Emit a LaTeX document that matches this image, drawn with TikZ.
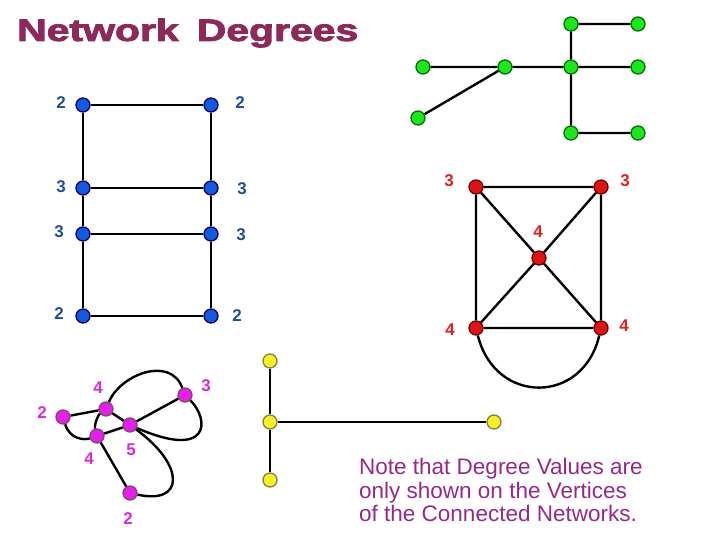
\documentclass[tikz,border=0pt]{standalone}
\usepackage{fontspec}
\setmainfont{Liberation Sans}
\newfontfamily\heavyfont[FakeBold=2.5]{Liberation Sans Bold}
\begin{document}
\begin{tikzpicture}[x=1pt,y=-1pt,
  v/.style={circle,draw=#1!45!black,line width=1.3pt,inner sep=0pt,minimum size=14pt},
  bv/.style={v=blue,fill={rgb,255:red,20;green,90;blue,220}},
  gv/.style={v=green,fill={rgb,255:red,30;green,230;blue,30}},
  rv/.style={v=red,fill={rgb,255:red,220;green,20;blue,20}},
  yv/.style={v=yellow,fill={rgb,255:red,245;green,240;blue,40}},
  mv/.style={v=magenta,fill={rgb,255:red,230;green,30;blue,240}},
  e/.style={line width=2.4pt,black},
  bl/.style={font=\bfseries\fontsize{17}{17}\selectfont,text={rgb,255:red,30;green,80;blue,150}},
  rl/.style={font=\bfseries\fontsize{17}{17}\selectfont,text={rgb,255:red,230;green,30;blue,30}},
  ml/.style={font=\bfseries\fontsize{17}{17}\selectfont,text={rgb,255:red,220;green,40;blue,220}}]
\useasboundingbox (0,0) rectangle (728,546);
\node[anchor=west,inner sep=0pt,font=\heavyfont\fontsize{31}{31}\selectfont,text={rgb,255:red,140;green,40;blue,90}] (title) at (17,33) {\scalebox{1.32}[1]{Network\, Degrees}};
% blue
\foreach \n/\x/\y in {b1/83/105,b2/211/105,b3/83/188,b4/211/188,b5/83/234,b6/211/234,b7/83/316,b8/211/316}
  \node[bv] (\n) at (\x,\y) {};
\draw[e] (b1)--(b2) (b1)--(b3) (b2)--(b4) (b3)--(b4) (b3)--(b5) (b4)--(b6) (b5)--(b6) (b5)--(b7) (b6)--(b8) (b7)--(b8);
\node[bl] (lb1) at (61,103) {2}; \node[bl] (lb2) at (240,103) {2};
\node[bl] (lb3) at (61,187) {3}; \node[bl] (lb4) at (242,189) {3};
\node[bl] (lb5) at (59,232) {3}; \node[bl] (lb6) at (241,235) {3};
\node[bl] (lb7) at (59,314) {2}; \node[bl] (lb8) at (237,316) {2};
% green
\foreach \n/\x/\y in {g1/571/24,g2/638/24,g3/423/67,g4/505/67,g5/571/67,g6/638/67,g7/418/118,g8/571/133,g9/638/133}
  \node[gv] (\n) at (\x,\y) {};
\draw[e] (g1)--(g2) (g1)--(g5) (g5)--(g8) (g8)--(g9) (g3)--(g4) (g4)--(g5) (g5)--(g6) (g7)--(g4);
% red
\foreach \n/\x/\y in {r1/476/187,r2/601/187,r3/539/258,r4/476/328,r5/601/328}
  \node[rv] (\n) at (\x,\y) {};
\draw[e] (r1)--(r2) (r1)--(r4) (r2)--(r5) (r4)--(r5) (r1)--(r3)--(r5) (r2)--(r3)--(r4);
\draw[e] (r4) .. controls (495,405) and (583,405) .. (r5);
\node[rl] (lr1) at (449,181) {3}; \node[rl] (lr2) at (625,181) {3};
\node[rl] (lr3) at (538,232) {4};
\node[rl] (lr4) at (450,330) {4}; \node[rl] (lr5) at (624,326) {4};
% yellow
\foreach \n/\x/\y in {y1/270/361,y2/270/422,y3/270/480,y4/494/422}
  \node[yv] (\n) at (\x,\y) {};
\draw[e] (y1)--(y2)--(y3) (y2)--(y4);
% magenta
\node[mv] (mA) at (63,417) {};
\node[mv] (mB) at (106,409) {};
\node[mv] (mC) at (97,436) {};
\node[mv] (mD) at (130,425) {};
\node[mv] (mE) at (185,395) {};
\node[mv] (mF) at (130,493) {};
\draw[e] (mA)--(mB) (mB)--(mD) (mC)--(mD) (mD)--(mE) (mC)--(mF);
\draw[e] (mA) .. controls (70,440) and (85,440) .. (mC);
\draw[e] (mC) .. controls (94,425) and (98,415) .. (mB);
\draw[e] (mB) .. controls (120,375) and (170,355) .. (mE);
\draw[e] (mE) .. controls (210,420) and (210,460) .. (mD);
\draw[e] (mD) .. controls (185,465) and (185,505) .. (mF);
\node[ml] (lA) at (42,413) {2}; \node[ml] (lB) at (98,388) {4};
\node[ml] (lC) at (89,459) {4}; \node[ml] (lD) at (131,450) {5};
\node[ml] (lE) at (206,386) {3}; \node[ml] (lF) at (128,519) {2};
% note
\node[anchor=north west,align=left,inner sep=0pt,font=\fontsize{22.5}{23.5}\selectfont,text={rgb,255:red,150;green,40;blue,140}] (note) at (359,458)
 {Note that Degree Values are\\only shown on the Vertices\\of the Connected Networks.};
\end{tikzpicture}
\end{document}
